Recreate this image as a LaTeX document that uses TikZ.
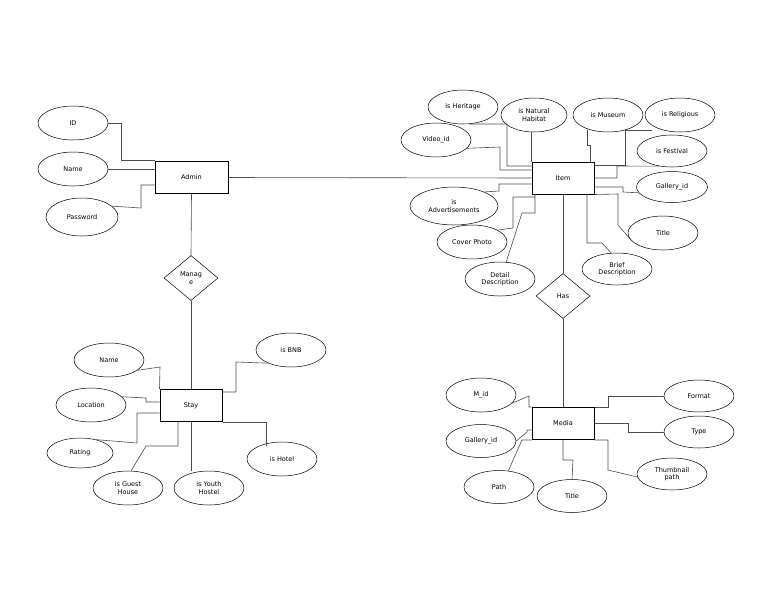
\documentclass[tikz,border=0pt]{standalone}
\usepackage{fontspec}
\setmainfont{DejaVu Sans}
\usetikzlibrary{shapes.geometric}
\begin{document}
\begin{tikzpicture}[x=1pt,y=-1pt,
 every node/.style={font=\fontsize{6.5}{7.5}\selectfont,align=center,inner sep=0pt},
 ent/.style={draw,line width=1pt,minimum width=62pt,minimum height=32pt},
 rel/.style={draw,diamond,aspect=1.2,minimum width=54pt,minimum height=45pt,line width=0.5pt},
 attr/.style={draw,ellipse,minimum width=70pt,minimum height=34pt,line width=0.5pt},
 con/.style={draw=black!70,line width=0.6pt}]
\useasboundingbox (0,0) rectangle (768,598);
\fill[white] (0,0) rectangle (768,598);
% entities
\node[ent,minimum width=73pt] (admin) at (191.5,177.5) {Admin};
\node[ent] (item) at (563,178) {Item};
\node[ent] (stay) at (191,405.5) {Stay};
\node[ent] (media) at (563,423.5) {Media};
\node[rel] (manage) at (191,278) {Manag\\e};
\node[rel] (has) at (563,296) {Has};
% admin attrs
\node[attr] (aid) at (73,123) {ID};
\node[attr] (aname) at (73,169) {Name};
\node[attr,minimum width=72pt,minimum height=38pt] (apw) at (82,217) {Password};
% stay attrs
\node[attr] (sname) at (109,360) {Name};
\node[attr] (sloc) at (91,405) {Location};
\node[attr,minimum width=66pt,minimum height=30pt] (srat) at (80,453) {Rating};
\node[attr] (sgh) at (128,488) {is Guest\\House};
\node[attr] (syh) at (209,488) {is Youth\\Hostel};
\node[attr] (shot) at (282,459) {is Hotel};
\node[attr] (sbnb) at (291,350) {is BNB};
% item attrs
\node[attr] (iher) at (463,107) {is Heritage};
\node[attr,minimum width=66pt] (inat) at (534,115) {is Natural\\Habitat};
\node[attr] (imus) at (608,115) {is Museum};
\node[attr] (irel) at (680,115) {is Religious};
\node[attr] (ivid) at (436,140) {Video\_id};
\node[attr,minimum height=32pt] (ifes) at (672,151) {is Festival};
\node[attr,minimum width=71pt,minimum height=31pt] (igal) at (672,187) {Gallery\_id};
\node[attr,minimum width=88pt,minimum height=38pt] (iadv) at (454,206) {is\\Advertisements};
\node[attr] (icov) at (472,242) {Cover Photo};
\node[attr] (ititle) at (663,233) {Title};
\node[attr] (idet) at (500,279) {Detail\\Description};
\node[attr,minimum height=32pt] (ibrief) at (617,269) {Brief\\Description};
% media attrs
\node[attr] (mid) at (481,395) {M\_id};
\node[attr,minimum height=32pt] (mfor) at (699,396) {Format};
\node[attr,minimum height=32pt] (mtype) at (699,432) {Type};
\node[attr,minimum height=33pt] (mgal) at (481,441) {Gallery\_id};
\node[attr,minimum height=32pt] (mthumb) at (672,474) {Thumbnail\\path};
\node[attr,minimum height=33pt] (mpath) at (499,487) {Path};
\node[attr,minimum height=33pt] (mtitle) at (572,496) {Title};
% admin connectors
\draw[con] (aid.east) -- (121,123) -- (121,160) -- (admin.west |- 0,160);
\draw[con] (aname.east) -- (admin.west |- aname.east);
\draw[con] (apw.20) -- (141,208) -- (141,185) -- (admin.west |- 0,185);
\draw[con] (admin.east) -- (item.west);
\draw[con] (admin.south) -- (manage.north);
\draw[con] (manage.south) -- (stay.north);
% stay connectors
\draw[con] (sname.-20) -- (160,367) -- (stay.north west);
\draw[con] (sloc.15) -- (146,398) -- (146,402) -- (stay.west |- 0,402);
\draw[con] (srat.40) -- (137,443) -- (137,413) -- (stay.west |- 0,413);
\draw[con] (sgh.80) -- (146,446) -- (178,446) -- (stay.south -| 178,0);
\draw[con] (stay.south) -- (syh.north -| stay.south);
\draw[con] (stay.south east) -- (266,422) -- (266,446);
\draw[con] (stay.east |- 0,392) -- (236,392) -- (236,362) -- (sbnb.-150);
% item connectors
\draw[con] (iher.-70) -- (507,124) -- (507,166) -- (item.west |- 0,166);
\draw[con] (inat.south -| item.north west) -- (item.north west);
\draw[con] (ivid.-15) -- (500,147) -- (500,170) -- (item.west |- 0,170);
\draw[con] (iadv.25) -- (499,191) -- (499,184) -- (item.west |- 0,184);
\draw[con] (icov.25) -- (513,228) -- (513,197) -- (535,197) -- (535,194);
\draw[con] (idet.70) -- (522,213) -- (535,213) -- (535,197);
\draw[con] (item.south) -- (has.north);
\draw[con] (587,194) -- (587,243) -- (602,243) -- (ibrief.110);
\draw[con] (item.south east) -- (618,194) -- (618,225) -- (ititle.-165);
\draw[con] (item.east |- 0,187) -- (623,187) -- (623,192) -- (igal.-170);
\draw[con] (item.east |- 0,178) -- (617,178) -- (617,166) -- (ifes.-130);
\draw[con] (item.east |- 0,165) -- (625,165) -- (625,130) -- (652,130);
\draw[con] (587,130) -- (587,145) -- (590,145) -- (590,162);
% media connectors
\draw[con] (has.south) -- (media.north);
\draw[con] (mid.-15) -- (529,396) -- (529,407) -- (media.north west);
\draw[con] (media.north east) -- (608,407) -- (608,396) -- (mfor.west);
\draw[con] (media.east |- 0,423) -- (628,423) -- (628,432) -- (mtype.west);
\draw[con] (media.south east) -- (608,440) -- (608,470) -- (mthumb.-175);
\draw[con] (mgal.east) -- (527,432) -- (527,430) -- (media.west |- 0,430);
\draw[con] (mpath.60) -- (522,440) -- (media.south west);
\draw[con] (mtitle.north) -- (573,460) -- (563,460) -- (media.south);
\end{tikzpicture}
\end{document}
